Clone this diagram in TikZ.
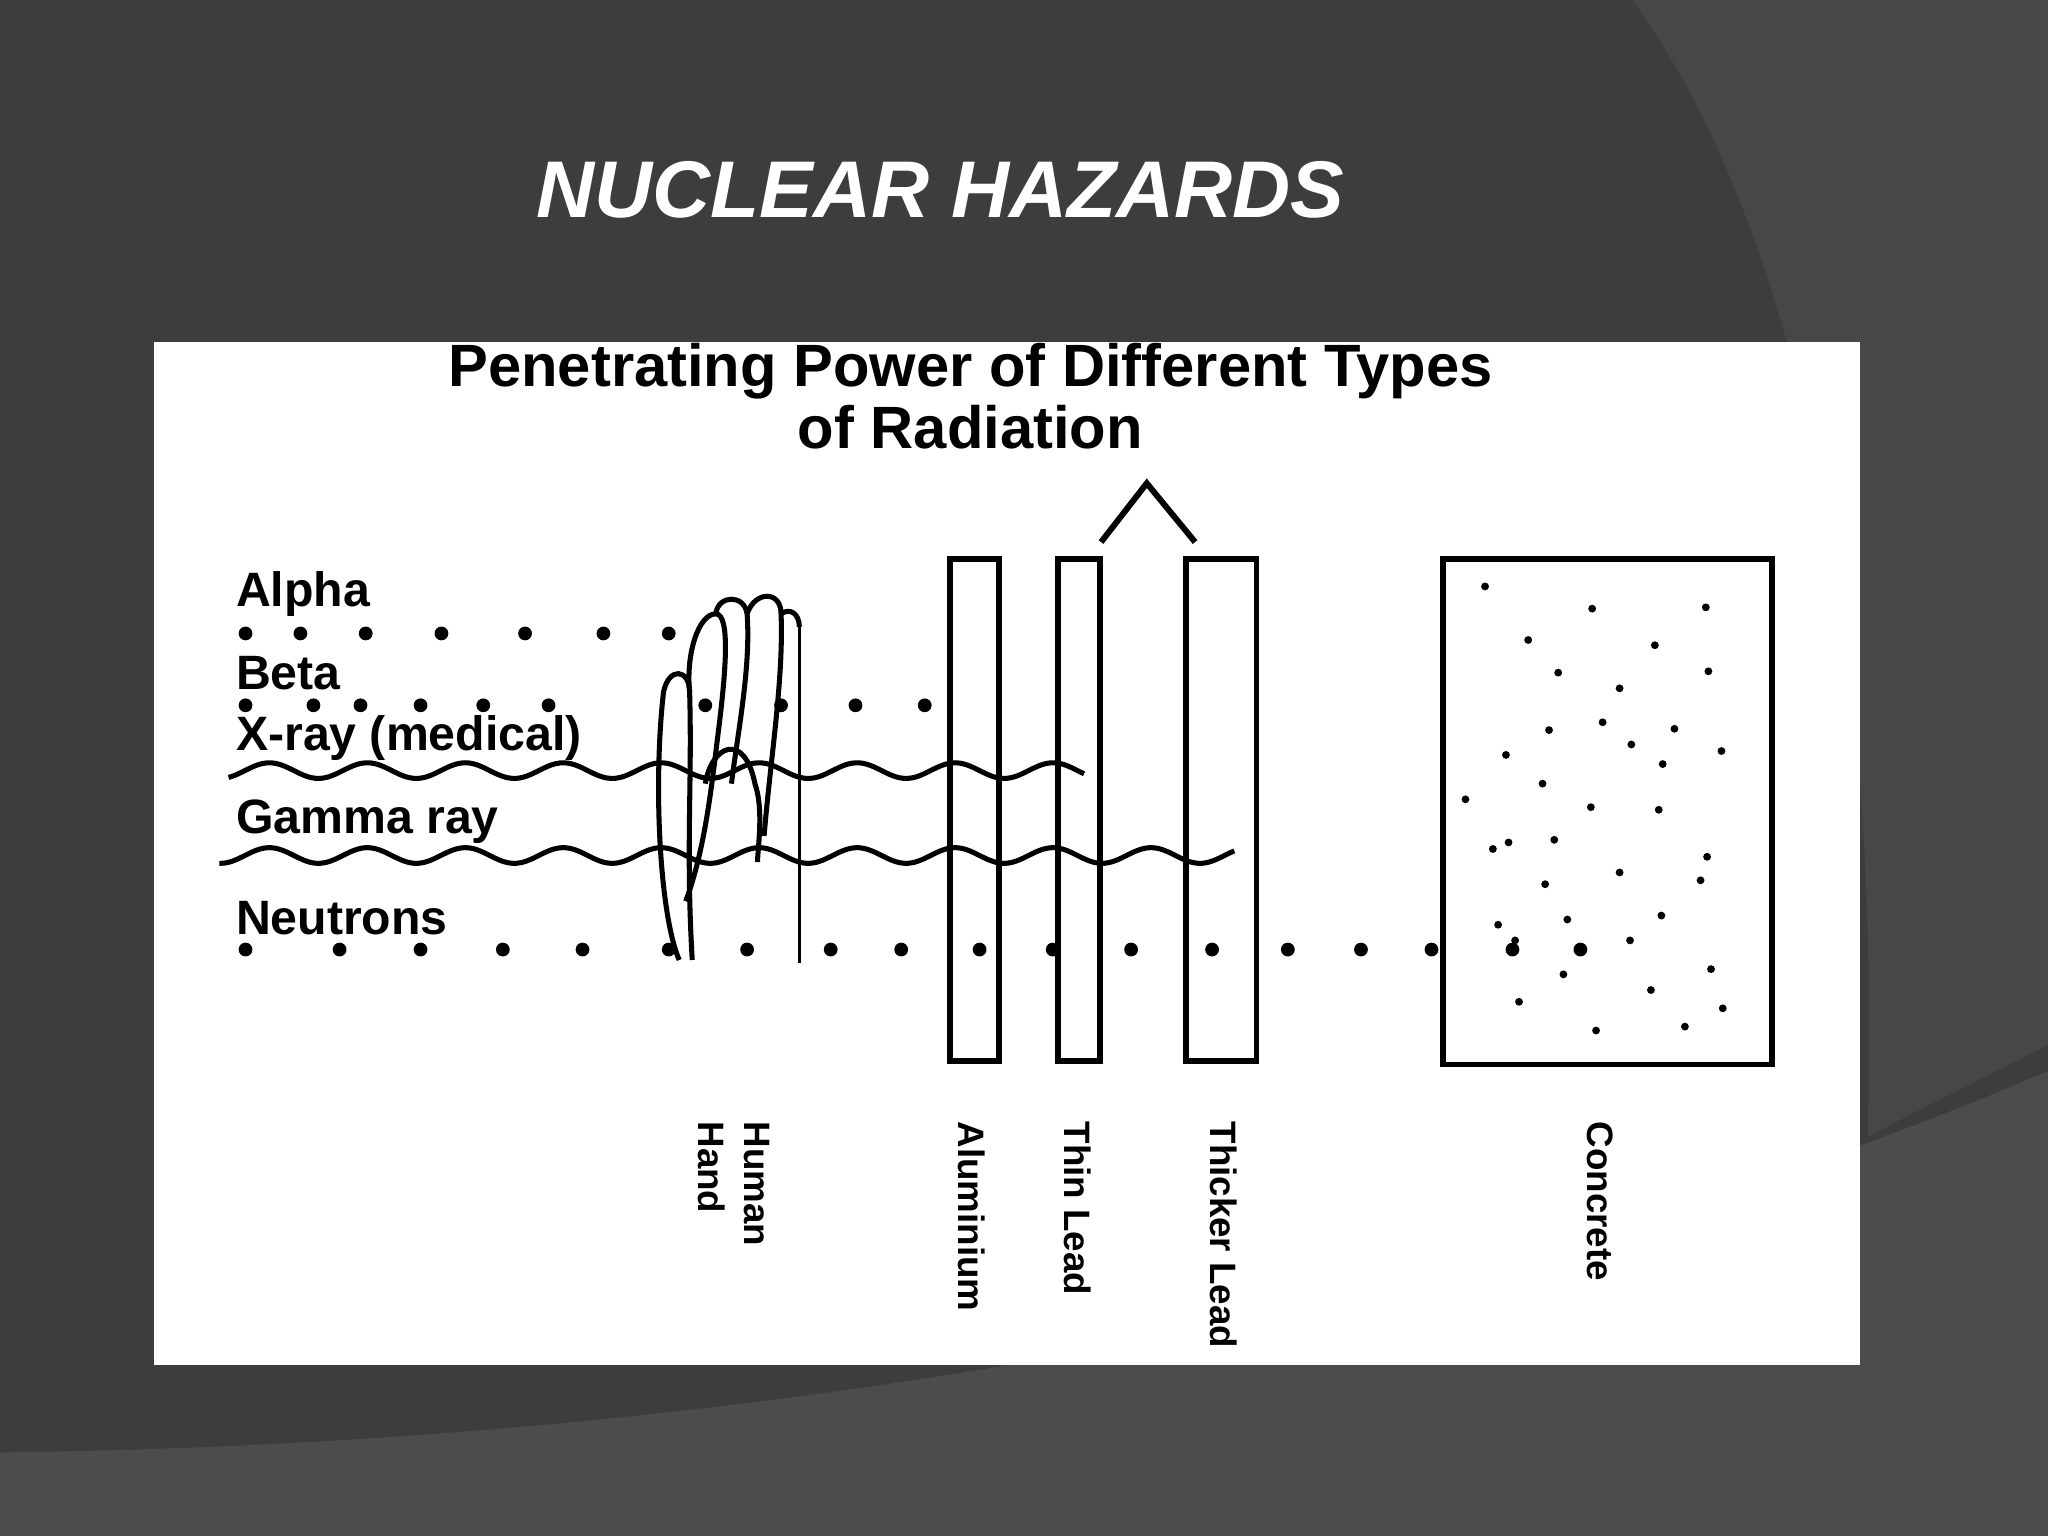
\documentclass[tikz,border=0pt]{standalone}
\usepackage{fontspec}
\setmainfont{Liberation Sans}
\begin{document}
\begin{tikzpicture}[x=0.01cm,y=-0.01cm,
 lab/.style={anchor=west,inner sep=0,font=\fontsize{10.5}{12}\selectfont\bfseries},
 rlab/.style={anchor=north west,rotate=-90,inner sep=0,align=left,font=\fontsize{8}{10}\selectfont\bfseries},
 bar/.style={draw,line width=1.3pt},
 dot/.style={circle,fill,inner sep=0,minimum size=3pt},
 wave/.style={line width=1.1pt}]
\useasboundingbox (0,0) rectangle (1568,1176);
\fill[black!76] (0,0) rectangle (1568,1176);
\fill[black!72] (1250,0) .. controls (1380,180) and (1440,500) .. (1430,870) -- (1568,800) -- (1568,0) -- cycle;
\fill[black!70] (0,1112) .. controls (600,1105) and (1150,1000) .. (1568,820) -- (1568,1176) -- (0,1176) -- cycle;
\node[text=white,font=\fontsize{17.5}{21}\selectfont\bfseries\itshape] (title) at (720,145) {NUCLEAR HAZARDS};
\fill[white] (118,262) rectangle (1424,1045);
\node[align=center,font=\fontsize{13}{13.5}\selectfont\bfseries] (sub) at (743,303) {Penetrating Power of Different Types\\of Radiation};
% labels
\node[lab] (la) at (180,455) {Alpha};
\node[lab] (lb) at (180,515) {Beta};
\node[lab] (lx) at (180,565) {X-ray (medical)};
\node[lab] (lg) at (180,629) {Gamma ray};
\node[lab] (ln) at (180,703) {Neutrons};
% dots
\foreach \x in {188,230,280,338,402,462,512} \node[dot] at (\x,485) {};
\foreach \x in {188,240,276,322,370,420,540,598,655,708} \node[dot] at (\x,540) {};
\foreach \x in {188,260,322,385,446,512,572,636,690,750,806,866,928,986,1042,1096,1158,1210} \node[dot] at (\x,727) {};
% waves
\draw[wave] plot[domain=175:830,samples=200,smooth] (\x,{590+6*sin(\x*4.8)});
\draw[wave] plot[domain=168:945,samples=220,smooth] (\x,{655+6*sin(\x*4.8)});
% hand
\begin{scope}[line width=1.1pt]
\draw (520,735) .. controls (505,700) and (500,600) .. (508,530) .. controls (512,510) and (528,512) .. (528,530) .. controls (530,600) and (525,650) .. (530,735);
\draw (528,530) .. controls (525,500) and (535,470) .. (548,470) .. controls (560,470) and (555,520) .. (550,560) .. controls (545,600) and (540,650) .. (525,690);
\draw (548,470) .. controls (550,455) and (570,455) .. (572,470) .. controls (575,510) and (565,560) .. (560,600);
\draw (572,470) .. controls (578,452) and (598,452) .. (598,470) .. controls (600,520) and (590,580) .. (585,640);
\draw (598,470) .. controls (605,465) and (612,470) .. (612,480);
\draw (540,600) .. controls (545,570) and (570,560) .. (578,600) .. controls (585,620) and (580,650) .. (580,660);
\draw[line width=0.6pt] (612,475) -- (612,737);
\end{scope}
% bars
\draw[bar] (727,428) rectangle (765,812);
\draw[bar] (810,428) rectangle (842,812);
\draw[bar] (908,428) rectangle (962,812);
\draw[bar] (1105,428) rectangle (1357,815);
\draw[line width=1.3pt] (843,415) -- (878,370) -- (915,415);
% concrete specks
\foreach \p in {(1137,449),(1219,466),(1306,465),(1170,490),(1267,494),(1193,515),(1240,527),(1308,514),(1186,559),(1227,553),(1282,558),(1153,578),(1249,570),(1273,585),(1318,575),(1181,600),(1122,612),(1218,618),(1270,620),(1143,650),(1190,643),(1155,645),(1240,668),(1307,656),(1183,677),(1302,674),(1147,708),(1200,704),(1272,701),(1160,720),(1248,720),(1197,746),(1310,742),(1163,767),(1264,758),(1319,772),(1222,789),(1290,786)}
 \fill \p circle (3);
% rotated labels
\node[rlab] (hand) at (590,858) {Human\\Hand};
\node[rlab] (al) at (755,858) {Aluminium};
\node[rlab] (tl) at (836,858) {Thin Lead};
\node[rlab] (tk) at (948,858) {Thicker Lead};
\node[rlab] (co) at (1236,858) {Concrete};
\end{tikzpicture}
\end{document}
